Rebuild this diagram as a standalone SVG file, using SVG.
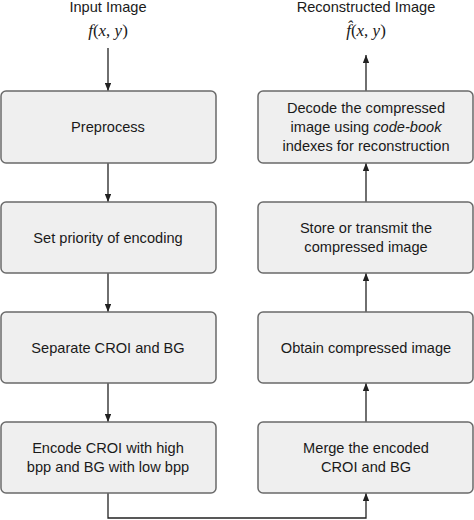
<svg xmlns="http://www.w3.org/2000/svg" width="474" height="520" viewBox="0 0 474 520">
<defs>
<marker id="ah" viewBox="0 0 10 8" refX="10" refY="4" markerWidth="8" markerHeight="6.4" orient="auto" markerUnits="userSpaceOnUse">
<path d="M0,0 L10,4 L0,8 z" fill="#222"/>
</marker>
<style>
.box{fill:#efefef;stroke:#6a6a6a;stroke-width:1.5}
.t{font-family:"Liberation Sans","DejaVu Sans",sans-serif;font-size:14.6px;fill:#1a1a1a;text-anchor:middle}
.m{font-family:"Liberation Serif","DejaVu Serif",serif;font-size:17px;fill:#1a1a1a;text-anchor:middle}
.c{fill:none;stroke:#222;stroke-width:1.3}
</style>
</defs>
<rect width="474" height="520" fill="#fff"/>
<g id="labels">
<text class="t" x="108" y="12">Input Image</text>
<text class="m" x="108" y="36"><tspan font-style="italic">f</tspan>(<tspan font-style="italic">x</tspan>, <tspan font-style="italic">y</tspan>)</text>
<text class="t" x="366" y="12">Reconstructed Image</text>
<text class="m" x="366" y="36"><tspan font-style="italic">f̂</tspan>(<tspan font-style="italic">x</tspan>, <tspan font-style="italic">y</tspan>)</text>
</g>
<g id="connectors">
<line class="c" x1="108" y1="48" x2="108" y2="91" marker-end="url(#ah)"/>
<line class="c" x1="108" y1="163" x2="108" y2="202" marker-end="url(#ah)"/>
<line class="c" x1="108" y1="273" x2="108" y2="312" marker-end="url(#ah)"/>
<line class="c" x1="108" y1="383" x2="108" y2="422" marker-end="url(#ah)"/>
<polyline class="c" points="108,493 108,518 366,518 366,493" marker-end="url(#ah)"/>
<line class="c" x1="366" y1="422" x2="366" y2="383" marker-end="url(#ah)"/>
<line class="c" x1="366" y1="312" x2="366" y2="273" marker-end="url(#ah)"/>
<line class="c" x1="366" y1="202" x2="366" y2="163" marker-end="url(#ah)"/>
<line class="c" x1="366" y1="91" x2="366" y2="55" marker-end="url(#ah)"/>
</g>
<g id="n1"><rect class="box" x="1" y="91" width="215" height="72" rx="5"/><text class="t" x="108" y="132">Preprocess</text></g>
<g id="n2"><rect class="box" x="1" y="202" width="215" height="71" rx="5"/><text class="t" x="108" y="243">Set priority of encoding</text></g>
<g id="n3"><rect class="box" x="1" y="312" width="215" height="71" rx="5"/><text class="t" x="108" y="353">Separate CROI and BG</text></g>
<g id="n4"><rect class="box" x="1" y="422" width="215" height="71" rx="5"/><text class="t" x="108" y="453">Encode CROI with high</text><text class="t" x="108" y="472">bpp and BG with low bpp</text></g>
<g id="n5"><rect class="box" x="258" y="422" width="215" height="71" rx="5"/><text class="t" x="366" y="453">Merge the encoded</text><text class="t" x="366" y="472">CROI and BG</text></g>
<g id="n6"><rect class="box" x="258" y="312" width="215" height="71" rx="5"/><text class="t" x="366" y="353">Obtain compressed image</text></g>
<g id="n7"><rect class="box" x="258" y="202" width="215" height="71" rx="5"/><text class="t" x="366" y="233">Store or transmit the</text><text class="t" x="366" y="252">compressed image</text></g>
<g id="n8"><rect class="box" x="258" y="91" width="215" height="72" rx="5"/><text class="t" x="366" y="113">Decode the compressed</text><text class="t" x="366" y="132">image using <tspan font-style="italic">code-book</tspan></text><text class="t" x="366" y="151">indexes for reconstruction</text></g>
</svg>
